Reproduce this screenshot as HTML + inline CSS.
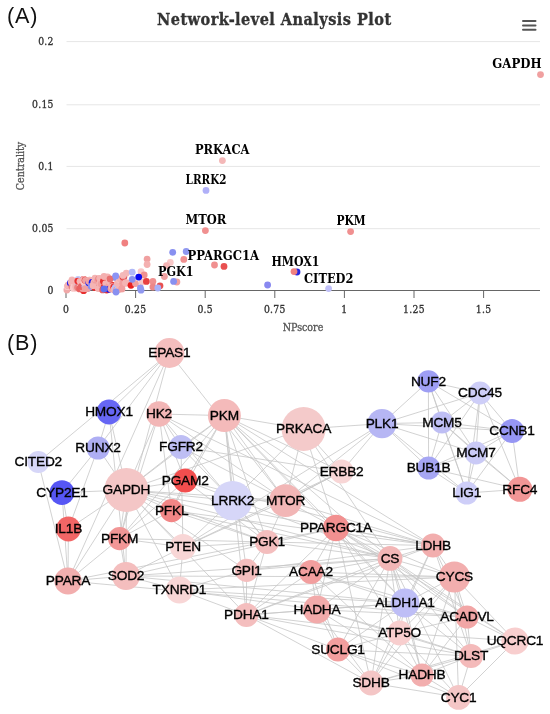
<!DOCTYPE html>
<html><head><meta charset="utf-8"><style>
html,body{margin:0;padding:0;background:#fff;}
body{width:550px;height:714px;overflow:hidden;position:relative;}
svg{position:absolute;left:0;top:0;}
.pl{font-family:"Liberation Sans",Arial,sans-serif;font-size:21.6px;fill:#111;letter-spacing:0.8px;}
.tt{font-family:"DejaVu Serif Condensed","DejaVu Serif",serif;font-stretch:semi-condensed;font-weight:bold;font-size:16px;fill:#333;letter-spacing:0.45px;stroke:#333;stroke-width:0.3px;}
.tk{font-family:"DejaVu Serif Condensed","DejaVu Serif",serif;font-stretch:semi-condensed;font-size:10.3px;fill:#333;letter-spacing:0.3px;stroke:#333;stroke-width:0.3px;}
.ax{font-family:"DejaVu Serif Condensed","DejaVu Serif",serif;font-stretch:semi-condensed;font-size:10.6px;fill:#555;stroke:#555;stroke-width:0.3px;}
.sl{font-family:"DejaVu Serif Condensed","DejaVu Serif",serif;font-stretch:semi-condensed;font-weight:bold;font-size:12.6px;fill:#000;}
.nl{font-family:"Liberation Sans",Arial,sans-serif;font-size:13.7px;fill:#000;stroke:#000;stroke-width:0.35px;letter-spacing:-0.2px;}
</style></head><body>
<svg width="550" height="714" viewBox="0 0 550 714">

<text class="pl" x="7" y="23">(A)</text>
<text class="pl" x="7" y="350">(B)</text>
<text class="tt" x="274.3" y="25.1" text-anchor="middle" textLength="234.5" lengthAdjust="spacingAndGlyphs">Network-level Analysis Plot</text>
<line x1="523" y1="21.1" x2="535.5" y2="21.1" stroke="#555" stroke-width="2" stroke-linecap="round"/>
<line x1="523" y1="25.5" x2="535.5" y2="25.5" stroke="#555" stroke-width="2" stroke-linecap="round"/>
<line x1="523" y1="29.7" x2="535.5" y2="29.7" stroke="#555" stroke-width="2" stroke-linecap="round"/>
<line x1="66.5" y1="228.7" x2="540" y2="228.7" stroke="#e6e6e6" stroke-width="1"/>
<line x1="66.5" y1="166.4" x2="540" y2="166.4" stroke="#e6e6e6" stroke-width="1"/>
<line x1="66.5" y1="104.8" x2="540" y2="104.8" stroke="#e6e6e6" stroke-width="1"/>
<line x1="66.5" y1="41.6" x2="540" y2="41.6" stroke="#e6e6e6" stroke-width="1"/>
<text class="tk" x="53.8" y="293.8" text-anchor="end">0</text>
<text class="tk" x="53.8" y="232.0" text-anchor="end">0.05</text>
<text class="tk" x="53.8" y="169.7" text-anchor="end">0.1</text>
<text class="tk" x="53.8" y="108.1" text-anchor="end">0.15</text>
<text class="tk" x="53.8" y="44.9" text-anchor="end">0.2</text>
<line x1="66" y1="290.5" x2="540" y2="290.5" stroke="#666" stroke-width="1"/>
<line x1="66.0" y1="290.5" x2="66.0" y2="298" stroke="#666" stroke-width="1"/>
<text class="tk" x="66.0" y="313.1" text-anchor="middle">0</text>
<line x1="135.6" y1="290.5" x2="135.6" y2="298" stroke="#666" stroke-width="1"/>
<text class="tk" x="135.6" y="313.1" text-anchor="middle">0.25</text>
<line x1="205.2" y1="290.5" x2="205.2" y2="298" stroke="#666" stroke-width="1"/>
<text class="tk" x="205.2" y="313.1" text-anchor="middle">0.5</text>
<line x1="274.8" y1="290.5" x2="274.8" y2="298" stroke="#666" stroke-width="1"/>
<text class="tk" x="274.8" y="313.1" text-anchor="middle">0.75</text>
<line x1="344.4" y1="290.5" x2="344.4" y2="298" stroke="#666" stroke-width="1"/>
<text class="tk" x="344.4" y="313.1" text-anchor="middle">1</text>
<line x1="414.0" y1="290.5" x2="414.0" y2="298" stroke="#666" stroke-width="1"/>
<text class="tk" x="414.0" y="313.1" text-anchor="middle">1.25</text>
<line x1="483.6" y1="290.5" x2="483.6" y2="298" stroke="#666" stroke-width="1"/>
<text class="tk" x="483.6" y="313.1" text-anchor="middle">1.5</text>
<text class="ax" x="303" y="330.8" text-anchor="middle">NPscore</text>
<text class="ax" transform="translate(23.5,166) rotate(-90)" text-anchor="middle">Centrality</text>
<circle cx="66.9" cy="290" r="3.4" fill="#f0a8a8"/>
<circle cx="72" cy="280" r="3.4" fill="#f4b8b8"/>
<circle cx="72" cy="285.3" r="3.4" fill="#f4b4b4"/>
<circle cx="78.2" cy="279.5" r="3.4" fill="#c0c8f8"/>
<circle cx="79" cy="283.8" r="3.4" fill="#1010f0"/>
<circle cx="83.6" cy="279.5" r="3.4" fill="#e83030"/>
<circle cx="83.6" cy="290.7" r="3.4" fill="#e83030"/>
<circle cx="87.6" cy="288.2" r="3.4" fill="#2020f0"/>
<circle cx="89.8" cy="280.2" r="3.4" fill="#f4b0b0"/>
<circle cx="93.5" cy="283.8" r="3.4" fill="#e84040"/>
<circle cx="96.4" cy="279.5" r="3.4" fill="#f4b4b4"/>
<circle cx="96.8" cy="279.4" r="3.4" fill="#f4b4b4"/>
<circle cx="67.3" cy="286.7" r="3.4" fill="#f8c8c8"/>
<circle cx="68.1" cy="285.4" r="3.4" fill="#f0a0a0"/>
<circle cx="68.0" cy="285.3" r="3.4" fill="#f4b4b4"/>
<circle cx="69.1" cy="285.0" r="3.4" fill="#f4b4b4"/>
<circle cx="70.7" cy="284.9" r="3.4" fill="#f4b4b4"/>
<circle cx="70.3" cy="283.1" r="3.4" fill="#1818f0"/>
<circle cx="71.8" cy="286.2" r="3.4" fill="#ec8080"/>
<circle cx="72.7" cy="281.2" r="3.4" fill="#f4b4b4"/>
<circle cx="71.2" cy="282.1" r="3.4" fill="#f4b4b4"/>
<circle cx="73.4" cy="288.4" r="3.4" fill="#f8c8c8"/>
<circle cx="73.7" cy="286.7" r="3.4" fill="#f8c8c8"/>
<circle cx="73.1" cy="281.1" r="3.4" fill="#f4b4b4"/>
<circle cx="75.9" cy="287.0" r="3.4" fill="#f4b4b4"/>
<circle cx="75.9" cy="286.1" r="3.4" fill="#f4b4b4"/>
<circle cx="76.4" cy="288.1" r="3.4" fill="#f4b4b4"/>
<circle cx="78.1" cy="285.8" r="3.4" fill="#b8c0f8"/>
<circle cx="77.6" cy="287.4" r="3.4" fill="#ec8080"/>
<circle cx="77.8" cy="281.1" r="3.4" fill="#e83030"/>
<circle cx="80.0" cy="281.3" r="3.4" fill="#f4b4b4"/>
<circle cx="80.5" cy="286.7" r="3.4" fill="#f8c8c8"/>
<circle cx="79.6" cy="288.9" r="3.4" fill="#e86060"/>
<circle cx="82.2" cy="285.8" r="3.4" fill="#f0a0a0"/>
<circle cx="82.9" cy="288.5" r="3.4" fill="#f0a0a0"/>
<circle cx="81.1" cy="286.6" r="3.4" fill="#e86060"/>
<circle cx="85.0" cy="286.3" r="3.4" fill="#b8c0f8"/>
<circle cx="83.8" cy="282.3" r="3.4" fill="#f8c8c8"/>
<circle cx="83.9" cy="279.4" r="3.4" fill="#f4b4b4"/>
<circle cx="85.1" cy="280.2" r="3.4" fill="#e83030"/>
<circle cx="85.5" cy="280.3" r="3.4" fill="#f0a0a0"/>
<circle cx="85.2" cy="288.7" r="3.4" fill="#f0a0a0"/>
<circle cx="88.8" cy="285.0" r="3.4" fill="#b8c0f8"/>
<circle cx="87.6" cy="288.6" r="3.4" fill="#f0a0a0"/>
<circle cx="88.8" cy="282.8" r="3.4" fill="#1818f0"/>
<circle cx="89.4" cy="280.1" r="3.4" fill="#f4b4b4"/>
<circle cx="90.0" cy="281.1" r="3.4" fill="#f8c8c8"/>
<circle cx="89.0" cy="281.5" r="3.4" fill="#f0a0a0"/>
<circle cx="92.1" cy="282.5" r="3.4" fill="#1818f0"/>
<circle cx="92.0" cy="286.4" r="3.4" fill="#f8c8c8"/>
<circle cx="91.1" cy="286.3" r="3.4" fill="#8890f0"/>
<circle cx="94.7" cy="287.5" r="3.4" fill="#e83030"/>
<circle cx="93.8" cy="282.7" r="3.4" fill="#f4b4b4"/>
<circle cx="93.1" cy="285.7" r="3.4" fill="#f4b4b4"/>
<circle cx="95.3" cy="280.2" r="3.4" fill="#f0a0a0"/>
<circle cx="95.0" cy="278.2" r="3.4" fill="#f4b4b4"/>
<circle cx="95.7" cy="278.8" r="3.4" fill="#f4b4b4"/>
<circle cx="98.2" cy="288.6" r="3.4" fill="#f4b4b4"/>
<circle cx="97.7" cy="280.5" r="3.4" fill="#f0a0a0"/>
<circle cx="98.7" cy="278.9" r="3.4" fill="#ec8080"/>
<circle cx="100.0" cy="283.2" r="3.4" fill="#f4b4b4"/>
<circle cx="99.7" cy="278.3" r="3.4" fill="#f4b4b4"/>
<circle cx="99.3" cy="287.9" r="3.4" fill="#f4b4b4"/>
<circle cx="102.1" cy="289.5" r="3.4" fill="#f4b4b4"/>
<circle cx="101.1" cy="284.1" r="3.4" fill="#f0a0a0"/>
<circle cx="102.7" cy="289.9" r="3.4" fill="#e86060"/>
<circle cx="103.7" cy="280.2" r="3.4" fill="#f4b4b4"/>
<circle cx="104.1" cy="287.1" r="3.4" fill="#e83030"/>
<circle cx="103.4" cy="281.2" r="3.4" fill="#e83030"/>
<circle cx="106.7" cy="290.0" r="3.4" fill="#e83030"/>
<circle cx="106.5" cy="287.7" r="3.4" fill="#f4b4b4"/>
<circle cx="105.7" cy="283.6" r="3.4" fill="#f4b4b4"/>
<circle cx="107.6" cy="276.9" r="3.4" fill="#f4b4b4"/>
<circle cx="108.9" cy="286.0" r="3.4" fill="#f0a0a0"/>
<circle cx="109.0" cy="289.3" r="3.4" fill="#1818f0"/>
<circle cx="109.4" cy="281.4" r="3.4" fill="#f4b4b4"/>
<circle cx="109.4" cy="279.1" r="3.4" fill="#f8c8c8"/>
<circle cx="110.7" cy="288.8" r="3.4" fill="#f0a0a0"/>
<circle cx="112.6" cy="285.3" r="3.4" fill="#f4b4b4"/>
<circle cx="112.8" cy="285.4" r="3.4" fill="#e83030"/>
<circle cx="112.0" cy="286.7" r="3.4" fill="#f4b4b4"/>
<circle cx="113.7" cy="287.2" r="3.4" fill="#e83030"/>
<circle cx="113.8" cy="289.8" r="3.4" fill="#f0a0a0"/>
<circle cx="114.4" cy="289.4" r="3.4" fill="#f4b4b4"/>
<circle cx="115.3" cy="277.6" r="3.4" fill="#8890f0"/>
<circle cx="115.3" cy="287.4" r="3.4" fill="#b8c0f8"/>
<circle cx="116.3" cy="289.9" r="3.4" fill="#f0a0a0"/>
<circle cx="117.3" cy="283.5" r="3.4" fill="#f4b4b4"/>
<circle cx="118.3" cy="289.8" r="3.4" fill="#f0a0a0"/>
<circle cx="117.9" cy="289.2" r="3.4" fill="#b8c0f8"/>
<circle cx="119.4" cy="287.6" r="3.4" fill="#f4b4b4"/>
<circle cx="119.5" cy="279.5" r="3.4" fill="#f8c8c8"/>
<circle cx="119.8" cy="278.9" r="3.4" fill="#f4b4b4"/>
<circle cx="121.7" cy="288.8" r="3.4" fill="#f0a0a0"/>
<circle cx="122.8" cy="283.7" r="3.4" fill="#f0a0a0"/>
<circle cx="122.0" cy="288.9" r="3.4" fill="#f0a0a0"/>
<circle cx="123.0" cy="282.6" r="3.4" fill="#f0a0a0"/>
<circle cx="123.0" cy="277.1" r="3.4" fill="#e83030"/>
<circle cx="123.9" cy="277.0" r="3.4" fill="#e86060"/>
<circle cx="125.7" cy="282.9" r="3.4" fill="#f0a0a0"/>
<circle cx="126.6" cy="282.9" r="3.4" fill="#f4b4b4"/>
<circle cx="125.5" cy="283.0" r="3.4" fill="#f4b4b4"/>
<circle cx="104" cy="276.5" r="3.4" fill="#f4b0b0"/>
<circle cx="110" cy="279" r="3.4" fill="#e87070"/>
<circle cx="115.7" cy="276" r="3.4" fill="#8c94f4"/>
<circle cx="123" cy="275.4" r="3.4" fill="#f4b8b8"/>
<circle cx="126.3" cy="273.2" r="3.4" fill="#f4b8b8"/>
<circle cx="104" cy="289" r="3.4" fill="#6070f0"/>
<circle cx="116" cy="292" r="3.4" fill="#8890f0"/>
<circle cx="131" cy="285.3" r="3.4" fill="#e82020"/>
<circle cx="135.5" cy="283.6" r="3.4" fill="#f0a0a0"/>
<circle cx="132.2" cy="272.2" r="3.4" fill="#b0b8f8"/>
<circle cx="132.2" cy="279.3" r="3.4" fill="#8890f0"/>
<circle cx="141" cy="271.6" r="3.4" fill="#f8c8c8"/>
<circle cx="144.2" cy="275" r="3.4" fill="#f09090"/>
<circle cx="142" cy="282" r="3.4" fill="#f8c8c8"/>
<circle cx="146.4" cy="281.4" r="3.4" fill="#e84040"/>
<circle cx="138.7" cy="277.1" r="3.4" fill="#0808f0"/>
<circle cx="152.9" cy="281.4" r="3.4" fill="#f09090"/>
<circle cx="152.9" cy="287" r="3.4" fill="#ec8888"/>
<circle cx="160" cy="285.8" r="3.4" fill="#e85050"/>
<circle cx="157.8" cy="288" r="3.4" fill="#a8b0f8"/>
<circle cx="140.4" cy="288" r="3.4" fill="#9098f0"/>
<circle cx="141" cy="290.2" r="3.4" fill="#9098f0"/>
<circle cx="124.8" cy="243" r="3.4" fill="#f08080"/>
<circle cx="147.1" cy="259.1" r="3.4" fill="#f0a0a0"/>
<circle cx="147.1" cy="264.5" r="3.4" fill="#f4b0b0"/>
<circle cx="172.7" cy="252.3" r="3.4" fill="#8890f0"/>
<circle cx="186.2" cy="251.5" r="3.4" fill="#9098f0"/>
<circle cx="183.8" cy="259.4" r="3.4" fill="#f09090"/>
<circle cx="170.3" cy="262.4" r="3.4" fill="#f8c8c8"/>
<circle cx="166.5" cy="265.6" r="3.4" fill="#f4b4b4"/>
<circle cx="164.4" cy="276.5" r="3.4" fill="#f0a0a0"/>
<circle cx="176.9" cy="282" r="3.4" fill="#f0a0a0"/>
<circle cx="173.6" cy="281.4" r="3.4" fill="#8890f0"/>
<circle cx="214.5" cy="265" r="3.4" fill="#f09090"/>
<circle cx="224" cy="266.4" r="3.4" fill="#e85050"/>
<circle cx="267.6" cy="285" r="3.4" fill="#8888f0"/>
<circle cx="540.5" cy="74.6" r="3.4" fill="#f0a0a0"/>
<circle cx="222.4" cy="160.6" r="3.4" fill="#f4b8b8"/>
<circle cx="206" cy="190.4" r="3.4" fill="#b0b0f8"/>
<circle cx="205.4" cy="230.6" r="3.4" fill="#f09090"/>
<circle cx="350.6" cy="231.6" r="3.4" fill="#f09090"/>
<circle cx="297" cy="272" r="3.4" fill="#2828e0"/>
<circle cx="294" cy="271.6" r="3.4" fill="#f08080"/>
<circle cx="328.6" cy="288.6" r="3.4" fill="#c0c0f8"/>
<text class="sl" x="516.9" y="67.9" text-anchor="middle" textLength="49.2" lengthAdjust="spacingAndGlyphs">GAPDH</text>
<text class="sl" x="222.2" y="154.4" text-anchor="middle" textLength="54.4" lengthAdjust="spacingAndGlyphs">PRKACA</text>
<text class="sl" x="206.0" y="184.0" text-anchor="middle" textLength="40.8" lengthAdjust="spacingAndGlyphs">LRRK2</text>
<text class="sl" x="206.0" y="223.6" text-anchor="middle" textLength="40.8" lengthAdjust="spacingAndGlyphs">MTOR</text>
<text class="sl" x="351.0" y="225.4" text-anchor="middle" textLength="29.2" lengthAdjust="spacingAndGlyphs">PKM</text>
<text class="sl" x="223.3" y="259.6" text-anchor="middle" textLength="71.7" lengthAdjust="spacingAndGlyphs">PPARGC1A</text>
<text class="sl" x="175.8" y="276.0" text-anchor="middle" textLength="35.5" lengthAdjust="spacingAndGlyphs">PGK1</text>
<text class="sl" x="295.4" y="265.6" text-anchor="middle" textLength="48.0" lengthAdjust="spacingAndGlyphs">HMOX1</text>
<text class="sl" x="328.7" y="282.6" text-anchor="middle" textLength="49.4" lengthAdjust="spacingAndGlyphs">CITED2</text>
<g stroke="#c6c6c6" stroke-width="0.8" fill="none">
<line x1="169.4" y1="353.0" x2="109.0" y2="412.0"/>
<line x1="169.4" y1="353.0" x2="38.3" y2="462.0"/>
<line x1="169.4" y1="353.0" x2="98.0" y2="448.0"/>
<line x1="169.4" y1="353.0" x2="285.6" y2="500.6"/>
<line x1="169.4" y1="353.0" x2="68.0" y2="581.0"/>
<line x1="169.4" y1="353.0" x2="119.6" y2="538.6"/>
<line x1="109.0" y1="412.0" x2="98.0" y2="448.0"/>
<line x1="109.0" y1="412.0" x2="126.4" y2="490.0"/>
<line x1="109.0" y1="412.0" x2="126.0" y2="576.0"/>
<line x1="98.0" y1="448.0" x2="62.0" y2="492.6"/>
<line x1="98.0" y1="448.0" x2="68.4" y2="529.0"/>
<line x1="98.0" y1="448.0" x2="126.4" y2="490.0"/>
<line x1="38.3" y1="462.0" x2="68.0" y2="581.0"/>
<line x1="62.0" y1="492.6" x2="68.4" y2="529.0"/>
<line x1="62.0" y1="492.6" x2="68.0" y2="581.0"/>
<line x1="62.0" y1="492.6" x2="126.4" y2="490.0"/>
<line x1="68.4" y1="529.0" x2="68.0" y2="581.0"/>
<line x1="68.4" y1="529.0" x2="126.4" y2="490.0"/>
<line x1="68.0" y1="581.0" x2="126.0" y2="576.0"/>
<line x1="68.0" y1="581.0" x2="119.6" y2="538.6"/>
<line x1="68.0" y1="581.0" x2="336.0" y2="528.0"/>
<line x1="68.0" y1="581.0" x2="126.4" y2="490.0"/>
<line x1="68.0" y1="581.0" x2="467.0" y2="617.0"/>
<line x1="126.4" y1="490.0" x2="159.0" y2="414.0"/>
<line x1="126.4" y1="490.0" x2="224.4" y2="415.6"/>
<line x1="126.4" y1="490.0" x2="185.2" y2="480.6"/>
<line x1="126.4" y1="490.0" x2="171.6" y2="510.6"/>
<line x1="126.4" y1="490.0" x2="119.6" y2="538.6"/>
<line x1="126.4" y1="490.0" x2="183.0" y2="547.0"/>
<line x1="126.4" y1="490.0" x2="126.0" y2="576.0"/>
<line x1="126.4" y1="490.0" x2="179.4" y2="590.0"/>
<line x1="126.4" y1="490.0" x2="232.6" y2="500.6"/>
<line x1="126.4" y1="490.0" x2="285.6" y2="500.6"/>
<line x1="126.4" y1="490.0" x2="267.0" y2="542.0"/>
<line x1="126.4" y1="490.0" x2="246.6" y2="570.4"/>
<line x1="126.4" y1="490.0" x2="433.0" y2="545.6"/>
<line x1="126.4" y1="490.0" x2="246.4" y2="615.0"/>
<line x1="126.4" y1="490.0" x2="390.0" y2="558.4"/>
<line x1="126.4" y1="490.0" x2="303.6" y2="429.0"/>
<line x1="159.0" y1="414.0" x2="224.4" y2="415.6"/>
<line x1="159.0" y1="414.0" x2="171.6" y2="510.6"/>
<line x1="159.0" y1="414.0" x2="119.6" y2="538.6"/>
<line x1="159.0" y1="414.0" x2="185.2" y2="480.6"/>
<line x1="159.0" y1="414.0" x2="267.0" y2="542.0"/>
<line x1="159.0" y1="414.0" x2="433.0" y2="545.6"/>
<line x1="159.0" y1="414.0" x2="181.0" y2="447.0"/>
<line x1="159.0" y1="414.0" x2="285.6" y2="500.6"/>
<line x1="224.4" y1="415.6" x2="303.6" y2="429.0"/>
<line x1="224.4" y1="415.6" x2="171.6" y2="510.6"/>
<line x1="224.4" y1="415.6" x2="119.6" y2="538.6"/>
<line x1="224.4" y1="415.6" x2="185.2" y2="480.6"/>
<line x1="224.4" y1="415.6" x2="267.0" y2="542.0"/>
<line x1="224.4" y1="415.6" x2="246.6" y2="570.4"/>
<line x1="224.4" y1="415.6" x2="433.0" y2="545.6"/>
<line x1="224.4" y1="415.6" x2="246.4" y2="615.0"/>
<line x1="224.4" y1="415.6" x2="232.6" y2="500.6"/>
<line x1="224.4" y1="415.6" x2="285.6" y2="500.6"/>
<line x1="224.4" y1="415.6" x2="390.0" y2="558.4"/>
<line x1="224.4" y1="415.6" x2="341.6" y2="471.6"/>
<line x1="224.4" y1="415.6" x2="336.0" y2="528.0"/>
<line x1="224.4" y1="415.6" x2="405.0" y2="603.0"/>
<line x1="224.4" y1="415.6" x2="181.0" y2="447.0"/>
<line x1="181.0" y1="447.0" x2="341.6" y2="471.6"/>
<line x1="181.0" y1="447.0" x2="183.0" y2="547.0"/>
<line x1="181.0" y1="447.0" x2="285.6" y2="500.6"/>
<line x1="181.0" y1="447.0" x2="126.4" y2="490.0"/>
<line x1="181.0" y1="447.0" x2="232.6" y2="500.6"/>
<line x1="185.2" y1="480.6" x2="171.6" y2="510.6"/>
<line x1="185.2" y1="480.6" x2="119.6" y2="538.6"/>
<line x1="185.2" y1="480.6" x2="267.0" y2="542.0"/>
<line x1="185.2" y1="480.6" x2="433.0" y2="545.6"/>
<line x1="185.2" y1="480.6" x2="390.0" y2="558.4"/>
<line x1="171.6" y1="510.6" x2="119.6" y2="538.6"/>
<line x1="171.6" y1="510.6" x2="267.0" y2="542.0"/>
<line x1="171.6" y1="510.6" x2="433.0" y2="545.6"/>
<line x1="171.6" y1="510.6" x2="390.0" y2="558.4"/>
<line x1="119.6" y1="538.6" x2="267.0" y2="542.0"/>
<line x1="119.6" y1="538.6" x2="126.0" y2="576.0"/>
<line x1="119.6" y1="538.6" x2="183.0" y2="547.0"/>
<line x1="183.0" y1="547.0" x2="285.6" y2="500.6"/>
<line x1="183.0" y1="547.0" x2="126.0" y2="576.0"/>
<line x1="183.0" y1="547.0" x2="179.4" y2="590.0"/>
<line x1="183.0" y1="547.0" x2="232.6" y2="500.6"/>
<line x1="183.0" y1="547.0" x2="341.6" y2="471.6"/>
<line x1="183.0" y1="547.0" x2="267.0" y2="542.0"/>
<line x1="183.0" y1="547.0" x2="382.0" y2="423.6"/>
<line x1="126.0" y1="576.0" x2="179.4" y2="590.0"/>
<line x1="126.0" y1="576.0" x2="336.0" y2="528.0"/>
<line x1="126.0" y1="576.0" x2="390.0" y2="558.4"/>
<line x1="126.0" y1="576.0" x2="454.4" y2="577.0"/>
<line x1="126.0" y1="576.0" x2="405.0" y2="603.0"/>
<line x1="179.4" y1="590.0" x2="454.4" y2="577.0"/>
<line x1="179.4" y1="590.0" x2="405.0" y2="603.0"/>
<line x1="179.4" y1="590.0" x2="246.4" y2="615.0"/>
<line x1="179.4" y1="590.0" x2="246.6" y2="570.4"/>
<line x1="179.4" y1="590.0" x2="317.0" y2="609.6"/>
<line x1="267.0" y1="542.0" x2="246.6" y2="570.4"/>
<line x1="267.0" y1="542.0" x2="433.0" y2="545.6"/>
<line x1="267.0" y1="542.0" x2="246.4" y2="615.0"/>
<line x1="267.0" y1="542.0" x2="390.0" y2="558.4"/>
<line x1="267.0" y1="542.0" x2="285.6" y2="500.6"/>
<line x1="246.6" y1="570.4" x2="433.0" y2="545.6"/>
<line x1="246.6" y1="570.4" x2="246.4" y2="615.0"/>
<line x1="246.6" y1="570.4" x2="390.0" y2="558.4"/>
<line x1="232.6" y1="500.6" x2="303.6" y2="429.0"/>
<line x1="232.6" y1="500.6" x2="285.6" y2="500.6"/>
<line x1="232.6" y1="500.6" x2="267.0" y2="542.0"/>
<line x1="285.6" y1="500.6" x2="303.6" y2="429.0"/>
<line x1="285.6" y1="500.6" x2="336.0" y2="528.0"/>
<line x1="285.6" y1="500.6" x2="341.6" y2="471.6"/>
<line x1="285.6" y1="500.6" x2="382.0" y2="423.6"/>
<line x1="285.6" y1="500.6" x2="433.0" y2="545.6"/>
<line x1="303.6" y1="429.0" x2="382.0" y2="423.6"/>
<line x1="303.6" y1="429.0" x2="341.6" y2="471.6"/>
<line x1="303.6" y1="429.0" x2="336.0" y2="528.0"/>
<line x1="303.6" y1="429.0" x2="390.0" y2="558.4"/>
<line x1="341.6" y1="471.6" x2="382.0" y2="423.6"/>
<line x1="341.6" y1="471.6" x2="285.6" y2="500.6"/>
<line x1="336.0" y1="528.0" x2="390.0" y2="558.4"/>
<line x1="336.0" y1="528.0" x2="454.4" y2="577.0"/>
<line x1="336.0" y1="528.0" x2="467.0" y2="617.0"/>
<line x1="336.0" y1="528.0" x2="317.0" y2="609.6"/>
<line x1="336.0" y1="528.0" x2="399.6" y2="633.0"/>
<line x1="336.0" y1="528.0" x2="433.0" y2="545.6"/>
<line x1="336.0" y1="528.0" x2="246.4" y2="615.0"/>
<line x1="336.0" y1="528.0" x2="371.0" y2="683.0"/>
<line x1="336.0" y1="528.0" x2="405.0" y2="603.0"/>
<line x1="336.0" y1="528.0" x2="515.0" y2="641.0"/>
<line x1="336.0" y1="528.0" x2="311.0" y2="572.0"/>
<line x1="246.4" y1="615.0" x2="390.0" y2="558.4"/>
<line x1="246.4" y1="615.0" x2="433.0" y2="545.6"/>
<line x1="246.4" y1="615.0" x2="471.0" y2="656.0"/>
<line x1="246.4" y1="615.0" x2="338.0" y2="649.6"/>
<line x1="246.4" y1="615.0" x2="371.0" y2="683.0"/>
<line x1="246.4" y1="615.0" x2="317.0" y2="609.6"/>
<line x1="246.4" y1="615.0" x2="311.0" y2="572.0"/>
<line x1="246.4" y1="615.0" x2="405.0" y2="603.0"/>
<line x1="246.4" y1="615.0" x2="399.6" y2="633.0"/>
<line x1="390.0" y1="558.4" x2="433.0" y2="545.6"/>
<line x1="390.0" y1="558.4" x2="454.4" y2="577.0"/>
<line x1="390.0" y1="558.4" x2="371.0" y2="683.0"/>
<line x1="390.0" y1="558.4" x2="338.0" y2="649.6"/>
<line x1="390.0" y1="558.4" x2="471.0" y2="656.0"/>
<line x1="390.0" y1="558.4" x2="467.0" y2="617.0"/>
<line x1="390.0" y1="558.4" x2="399.6" y2="633.0"/>
<line x1="390.0" y1="558.4" x2="405.0" y2="603.0"/>
<line x1="390.0" y1="558.4" x2="317.0" y2="609.6"/>
<line x1="390.0" y1="558.4" x2="311.0" y2="572.0"/>
<line x1="390.0" y1="558.4" x2="515.0" y2="641.0"/>
<line x1="390.0" y1="558.4" x2="458.6" y2="697.4"/>
<line x1="390.0" y1="558.4" x2="422.0" y2="675.0"/>
<line x1="433.0" y1="545.6" x2="454.4" y2="577.0"/>
<line x1="433.0" y1="545.6" x2="405.0" y2="603.0"/>
<line x1="433.0" y1="545.6" x2="467.0" y2="617.0"/>
<line x1="433.0" y1="545.6" x2="471.0" y2="656.0"/>
<line x1="433.0" y1="545.6" x2="371.0" y2="683.0"/>
<line x1="454.4" y1="577.0" x2="467.0" y2="617.0"/>
<line x1="454.4" y1="577.0" x2="515.0" y2="641.0"/>
<line x1="454.4" y1="577.0" x2="458.6" y2="697.4"/>
<line x1="454.4" y1="577.0" x2="399.6" y2="633.0"/>
<line x1="454.4" y1="577.0" x2="371.0" y2="683.0"/>
<line x1="454.4" y1="577.0" x2="471.0" y2="656.0"/>
<line x1="454.4" y1="577.0" x2="405.0" y2="603.0"/>
<line x1="454.4" y1="577.0" x2="422.0" y2="675.0"/>
<line x1="311.0" y1="572.0" x2="317.0" y2="609.6"/>
<line x1="311.0" y1="572.0" x2="422.0" y2="675.0"/>
<line x1="311.0" y1="572.0" x2="467.0" y2="617.0"/>
<line x1="311.0" y1="572.0" x2="338.0" y2="649.6"/>
<line x1="311.0" y1="572.0" x2="405.0" y2="603.0"/>
<line x1="311.0" y1="572.0" x2="454.4" y2="577.0"/>
<line x1="317.0" y1="609.6" x2="422.0" y2="675.0"/>
<line x1="317.0" y1="609.6" x2="467.0" y2="617.0"/>
<line x1="317.0" y1="609.6" x2="338.0" y2="649.6"/>
<line x1="317.0" y1="609.6" x2="371.0" y2="683.0"/>
<line x1="317.0" y1="609.6" x2="405.0" y2="603.0"/>
<line x1="317.0" y1="609.6" x2="471.0" y2="656.0"/>
<line x1="317.0" y1="609.6" x2="399.6" y2="633.0"/>
<line x1="405.0" y1="603.0" x2="467.0" y2="617.0"/>
<line x1="405.0" y1="603.0" x2="399.6" y2="633.0"/>
<line x1="405.0" y1="603.0" x2="471.0" y2="656.0"/>
<line x1="405.0" y1="603.0" x2="422.0" y2="675.0"/>
<line x1="405.0" y1="603.0" x2="338.0" y2="649.6"/>
<line x1="467.0" y1="617.0" x2="422.0" y2="675.0"/>
<line x1="467.0" y1="617.0" x2="515.0" y2="641.0"/>
<line x1="467.0" y1="617.0" x2="471.0" y2="656.0"/>
<line x1="467.0" y1="617.0" x2="399.6" y2="633.0"/>
<line x1="399.6" y1="633.0" x2="515.0" y2="641.0"/>
<line x1="399.6" y1="633.0" x2="458.6" y2="697.4"/>
<line x1="399.6" y1="633.0" x2="371.0" y2="683.0"/>
<line x1="399.6" y1="633.0" x2="471.0" y2="656.0"/>
<line x1="399.6" y1="633.0" x2="338.0" y2="649.6"/>
<line x1="399.6" y1="633.0" x2="422.0" y2="675.0"/>
<line x1="515.0" y1="641.0" x2="458.6" y2="697.4"/>
<line x1="515.0" y1="641.0" x2="471.0" y2="656.0"/>
<line x1="515.0" y1="641.0" x2="371.0" y2="683.0"/>
<line x1="338.0" y1="649.6" x2="371.0" y2="683.0"/>
<line x1="338.0" y1="649.6" x2="471.0" y2="656.0"/>
<line x1="338.0" y1="649.6" x2="422.0" y2="675.0"/>
<line x1="338.0" y1="649.6" x2="458.6" y2="697.4"/>
<line x1="471.0" y1="656.0" x2="371.0" y2="683.0"/>
<line x1="471.0" y1="656.0" x2="458.6" y2="697.4"/>
<line x1="471.0" y1="656.0" x2="422.0" y2="675.0"/>
<line x1="422.0" y1="675.0" x2="371.0" y2="683.0"/>
<line x1="422.0" y1="675.0" x2="458.6" y2="697.4"/>
<line x1="371.0" y1="683.0" x2="458.6" y2="697.4"/>
<line x1="382.0" y1="423.6" x2="428.4" y2="381.4"/>
<line x1="382.0" y1="423.6" x2="480.0" y2="393.0"/>
<line x1="382.0" y1="423.6" x2="442.0" y2="422.4"/>
<line x1="382.0" y1="423.6" x2="512.0" y2="431.0"/>
<line x1="382.0" y1="423.6" x2="476.0" y2="453.0"/>
<line x1="382.0" y1="423.6" x2="428.6" y2="468.0"/>
<line x1="382.0" y1="423.6" x2="466.8" y2="493.0"/>
<line x1="428.4" y1="381.4" x2="480.0" y2="393.0"/>
<line x1="428.4" y1="381.4" x2="442.0" y2="422.4"/>
<line x1="428.4" y1="381.4" x2="428.6" y2="468.0"/>
<line x1="428.4" y1="381.4" x2="476.0" y2="453.0"/>
<line x1="428.4" y1="381.4" x2="512.0" y2="431.0"/>
<line x1="428.4" y1="381.4" x2="466.8" y2="493.0"/>
<line x1="480.0" y1="393.0" x2="442.0" y2="422.4"/>
<line x1="480.0" y1="393.0" x2="476.0" y2="453.0"/>
<line x1="480.0" y1="393.0" x2="512.0" y2="431.0"/>
<line x1="480.0" y1="393.0" x2="428.6" y2="468.0"/>
<line x1="480.0" y1="393.0" x2="466.8" y2="493.0"/>
<line x1="480.0" y1="393.0" x2="519.8" y2="489.3"/>
<line x1="442.0" y1="422.4" x2="476.0" y2="453.0"/>
<line x1="442.0" y1="422.4" x2="512.0" y2="431.0"/>
<line x1="442.0" y1="422.4" x2="428.6" y2="468.0"/>
<line x1="442.0" y1="422.4" x2="466.8" y2="493.0"/>
<line x1="442.0" y1="422.4" x2="519.8" y2="489.3"/>
<line x1="512.0" y1="431.0" x2="476.0" y2="453.0"/>
<line x1="512.0" y1="431.0" x2="428.6" y2="468.0"/>
<line x1="512.0" y1="431.0" x2="519.8" y2="489.3"/>
<line x1="512.0" y1="431.0" x2="466.8" y2="493.0"/>
<line x1="476.0" y1="453.0" x2="428.6" y2="468.0"/>
<line x1="476.0" y1="453.0" x2="466.8" y2="493.0"/>
<line x1="476.0" y1="453.0" x2="519.8" y2="489.3"/>
<line x1="428.6" y1="468.0" x2="466.8" y2="493.0"/>
<line x1="428.6" y1="468.0" x2="519.8" y2="489.3"/>
<line x1="466.8" y1="493.0" x2="519.8" y2="489.3"/>
</g>
<circle cx="169.4" cy="353.0" r="15.0" fill="#f4bebe"/>
<circle cx="109.0" cy="412.0" r="12.4" fill="#6666f4"/>
<circle cx="159.0" cy="414.0" r="12.8" fill="#f2b6b6"/>
<circle cx="224.4" cy="415.6" r="16.5" fill="#f4baba"/>
<circle cx="303.6" cy="429.0" r="22.0" fill="#f4caca"/>
<circle cx="382.0" cy="423.6" r="14.6" fill="#b6b6f4"/>
<circle cx="428.4" cy="381.4" r="11.2" fill="#9e9ef4"/>
<circle cx="480.0" cy="393.0" r="11.4" fill="#cecef8"/>
<circle cx="442.0" cy="422.4" r="11.0" fill="#bebef4"/>
<circle cx="512.0" cy="431.0" r="12.0" fill="#9696f4"/>
<circle cx="476.0" cy="453.0" r="11.4" fill="#cacaf6"/>
<circle cx="428.6" cy="468.0" r="11.5" fill="#a6a6f4"/>
<circle cx="466.8" cy="493.0" r="11.5" fill="#cecef8"/>
<circle cx="519.8" cy="489.3" r="12.5" fill="#f29696"/>
<circle cx="341.6" cy="471.6" r="12.0" fill="#f8d6d6"/>
<circle cx="38.3" cy="462.0" r="11.0" fill="#d6d6f8"/>
<circle cx="98.0" cy="448.0" r="11.6" fill="#aeaef4"/>
<circle cx="181.0" cy="447.0" r="12.0" fill="#bebef4"/>
<circle cx="62.0" cy="492.6" r="12.4" fill="#5656f4"/>
<circle cx="126.4" cy="490.0" r="22.0" fill="#f4c6c6"/>
<circle cx="185.2" cy="480.6" r="12.0" fill="#f24e4e"/>
<circle cx="232.6" cy="500.6" r="19.7" fill="#d6d6f8"/>
<circle cx="285.6" cy="500.6" r="16.4" fill="#f2b6b6"/>
<circle cx="68.4" cy="529.0" r="12.4" fill="#f26666"/>
<circle cx="171.6" cy="510.6" r="11.6" fill="#f28686"/>
<circle cx="119.6" cy="538.6" r="11.6" fill="#f29696"/>
<circle cx="183.0" cy="547.0" r="13.0" fill="#f8d6d6"/>
<circle cx="267.0" cy="542.0" r="12.0" fill="#f4bebe"/>
<circle cx="336.0" cy="528.0" r="13.2" fill="#f29090"/>
<circle cx="390.0" cy="558.4" r="12.4" fill="#f2b6b6"/>
<circle cx="433.0" cy="545.6" r="12.0" fill="#f2aeae"/>
<circle cx="454.4" cy="577.0" r="15.6" fill="#f2aeae"/>
<circle cx="68.0" cy="581.0" r="13.6" fill="#f2aeae"/>
<circle cx="126.0" cy="576.0" r="14.0" fill="#f4bebe"/>
<circle cx="246.6" cy="570.4" r="11.6" fill="#f4bebe"/>
<circle cx="311.0" cy="572.0" r="12.0" fill="#f29e9e"/>
<circle cx="179.4" cy="590.0" r="13.6" fill="#f8d6d6"/>
<circle cx="246.4" cy="615.0" r="12.0" fill="#f4bebe"/>
<circle cx="317.0" cy="609.6" r="14.0" fill="#f2aaaa"/>
<circle cx="405.0" cy="603.0" r="14.4" fill="#bebef6"/>
<circle cx="467.0" cy="617.0" r="11.6" fill="#f2a6a6"/>
<circle cx="399.6" cy="633.0" r="12.4" fill="#f8cece"/>
<circle cx="515.0" cy="641.0" r="13.6" fill="#f8cece"/>
<circle cx="338.0" cy="649.6" r="12.0" fill="#f29e9e"/>
<circle cx="471.0" cy="656.0" r="12.0" fill="#f4baba"/>
<circle cx="422.0" cy="675.0" r="11.6" fill="#f2aeae"/>
<circle cx="371.0" cy="683.0" r="12.4" fill="#f4c6c6"/>
<circle cx="458.6" cy="697.4" r="12.4" fill="#f4c6c6"/>
<text class="nl" x="169.4" y="357.3" text-anchor="middle">EPAS1</text>
<text class="nl" x="109.0" y="416.3" text-anchor="middle">HMOX1</text>
<text class="nl" x="159.0" y="418.3" text-anchor="middle">HK2</text>
<text class="nl" x="224.4" y="419.9" text-anchor="middle">PKM</text>
<text class="nl" x="303.6" y="433.3" text-anchor="middle">PRKACA</text>
<text class="nl" x="382.0" y="427.9" text-anchor="middle">PLK1</text>
<text class="nl" x="428.4" y="385.7" text-anchor="middle">NUF2</text>
<text class="nl" x="480.0" y="397.3" text-anchor="middle">CDC45</text>
<text class="nl" x="442.0" y="426.7" text-anchor="middle">MCM5</text>
<text class="nl" x="512.0" y="435.3" text-anchor="middle">CCNB1</text>
<text class="nl" x="476.0" y="457.3" text-anchor="middle">MCM7</text>
<text class="nl" x="428.6" y="472.3" text-anchor="middle">BUB1B</text>
<text class="nl" x="466.8" y="497.3" text-anchor="middle">LIG1</text>
<text class="nl" x="519.8" y="493.6" text-anchor="middle">RFC4</text>
<text class="nl" x="341.6" y="475.9" text-anchor="middle">ERBB2</text>
<text class="nl" x="38.3" y="466.3" text-anchor="middle">CITED2</text>
<text class="nl" x="98.0" y="452.3" text-anchor="middle">RUNX2</text>
<text class="nl" x="181.0" y="451.3" text-anchor="middle">FGFR2</text>
<text class="nl" x="62.0" y="496.9" text-anchor="middle">CYP2E1</text>
<text class="nl" x="126.4" y="494.3" text-anchor="middle">GAPDH</text>
<text class="nl" x="185.2" y="484.9" text-anchor="middle">PGAM2</text>
<text class="nl" x="232.6" y="504.9" text-anchor="middle">LRRK2</text>
<text class="nl" x="285.6" y="504.9" text-anchor="middle">MTOR</text>
<text class="nl" x="68.4" y="533.3" text-anchor="middle">IL1B</text>
<text class="nl" x="171.6" y="514.9" text-anchor="middle">PFKL</text>
<text class="nl" x="119.6" y="542.9" text-anchor="middle">PFKM</text>
<text class="nl" x="183.0" y="551.3" text-anchor="middle">PTEN</text>
<text class="nl" x="267.0" y="546.3" text-anchor="middle">PGK1</text>
<text class="nl" x="336.0" y="532.3" text-anchor="middle">PPARGC1A</text>
<text class="nl" x="390.0" y="562.7" text-anchor="middle">CS</text>
<text class="nl" x="433.0" y="549.9" text-anchor="middle">LDHB</text>
<text class="nl" x="454.4" y="581.3" text-anchor="middle">CYCS</text>
<text class="nl" x="68.0" y="585.3" text-anchor="middle">PPARA</text>
<text class="nl" x="126.0" y="580.3" text-anchor="middle">SOD2</text>
<text class="nl" x="246.6" y="574.7" text-anchor="middle">GPI1</text>
<text class="nl" x="311.0" y="576.3" text-anchor="middle">ACAA2</text>
<text class="nl" x="179.4" y="594.3" text-anchor="middle">TXNRD1</text>
<text class="nl" x="246.4" y="619.3" text-anchor="middle">PDHA1</text>
<text class="nl" x="317.0" y="613.9" text-anchor="middle">HADHA</text>
<text class="nl" x="405.0" y="607.3" text-anchor="middle">ALDH1A1</text>
<text class="nl" x="467.0" y="621.3" text-anchor="middle">ACADVL</text>
<text class="nl" x="399.6" y="637.3" text-anchor="middle">ATP5O</text>
<text class="nl" x="515.0" y="645.3" text-anchor="middle">UQCRC1</text>
<text class="nl" x="338.0" y="653.9" text-anchor="middle">SUCLG1</text>
<text class="nl" x="471.0" y="660.3" text-anchor="middle">DLST</text>
<text class="nl" x="422.0" y="679.3" text-anchor="middle">HADHB</text>
<text class="nl" x="371.0" y="687.3" text-anchor="middle">SDHB</text>
<text class="nl" x="458.6" y="701.7" text-anchor="middle">CYC1</text>
</svg></body></html>
